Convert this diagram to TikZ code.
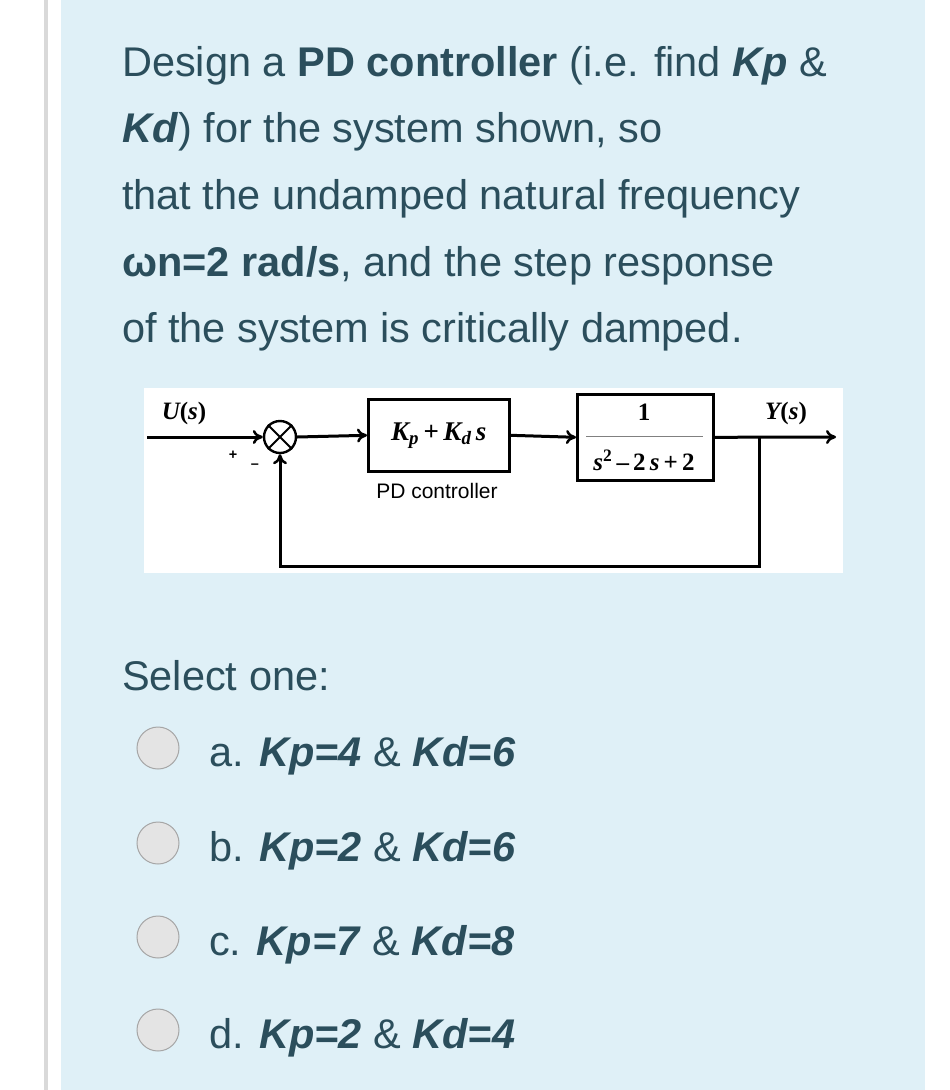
\documentclass[tikz,border=0pt]{standalone}
\usetikzlibrary{arrows.meta}
\usepackage{fontspec}
\setmainfont{Liberation Sans}
\newfontfamily\tms{Liberation Serif}
\definecolor{pan}{HTML}{DFF0F7}
\definecolor{txt}{HTML}{2B4E5C}
\definecolor{rad}{HTML}{E4E4E4}
\begin{document}
\begin{tikzpicture}[x=1pt,y=-1pt,
  q/.style={anchor=west,text=txt,font=\fontsize{41.5}{46}\selectfont,inner sep=0},
  blk/.style={draw,line width=2.6pt,inner sep=0,anchor=north west},
  w/.style={line width=3pt},
  a/.style={w,-{To[length=10pt,width=14pt,line width=2.5pt]}},
  rb/.style={circle,draw=gray!70,fill=rad,minimum size=42pt,inner sep=0,line width=1pt}]
\useasboundingbox (0,0) rectangle (950,1090);
\fill[white] (0,0) rectangle (950,1090);
\fill[gray!30] (44,0) rectangle (48,1090);
\fill[pan] (61,0) rectangle (925,1090);
\node[q] (l1) at (122,66) {Design a \textbf{PD controller} (i.e. find \textbf{\textit{Kp}} \&};
\node[q] (l2) at (122,132) {\textbf{\textit{Kd}}) for the system shown, so};
\node[q] (l3) at (122,199) {that the undamped natural frequency};
\node[q] (l4) at (122,266) {\textbf{ωn=2 rad/s}, and the step response};
\node[q] (l5) at (122,332) {of the system is critically damped.};
\fill[white] (144,388) rectangle (843,573);
\node[blk,minimum width=141pt,minimum height=72pt] (pd) at (367,398) {};
\node (pdt) at (pd.center) {\tms\fontsize{27}{28}\selectfont\bfseries\itshape K\textsubscript{p}\,\upshape+\,\itshape K\textsubscript{d}\,s};
\node[blk,minimum width=136pt,minimum height=86pt] (pl) at (576,393) {};
\node (n1) at (644,412) {\tms\fontsize{25}{26}\selectfont\bfseries 1};
\node (d1) at (644,460) {\tms\fontsize{25}{26}\selectfont\bfseries\itshape s\textsuperscript{\upshape 2}\upshape\,–\,2\,\itshape s\upshape\,+\,2};
\draw[gray,line width=1pt] (586,436) -- (703,436);
\node[draw,circle,line width=2.4pt,minimum size=32pt,inner sep=0] (sum) at (280,437) {};
\draw[line width=2pt] (sum.north west) -- (sum.south east) (sum.north east) -- (sum.south west);
\node (u) at (184,413) {\tms\fontsize{25}{26}\selectfont\bfseries\itshape U\upshape(\itshape s\upshape)};
\node (y) at (786,413) {\tms\fontsize{25}{26}\selectfont\bfseries\itshape Y\upshape(\itshape s\upshape)};
\node (plus) at (233,455) {\bfseries\Large +};
\node (minus) at (255,466) {\bfseries\Large –};
\node (pdl) at (437,491) {\fontsize{21}{22}\selectfont PD controller};
\coordinate (in) at (147,437);
\coordinate (out) at (836,437);
\coordinate (br) at (759,437);
\coordinate (c1) at (759,566);
\coordinate (c2) at (280,566);
\draw[a] (in) -- (sum.west);
\draw[a] (sum.east) -- (pd.west);
\draw[a] (pd.east) -- (pl.west);
\draw[a] (pl.east) -- (out);
\draw[a] (br) -- (c1) -- (c2) -- (sum.south);
\node[q] (so) at (122,676) {Select one:};
\node[rb] (r1) at (158,748) {};
\node[rb] (r2) at (158,843) {};
\node[rb] (r3) at (158,937) {};
\node[rb] (r4) at (158,1030) {};
\node[q] (o1) at (209,756) {a. \textbf{\textit{Kp=4}} \& \textbf{\textit{Kd=6}}};
\node[q] (o2) at (209,851) {b. \textbf{\textit{Kp=2}} \& \textbf{\textit{Kd=6}}};
\node[q] (o3) at (209,945) {c. \textbf{\textit{Kp=7}} \& \textbf{\textit{Kd=8}}};
\node[q] (o4) at (209,1038) {d. \textbf{\textit{Kp=2}} \& \textbf{\textit{Kd=4}}};
\end{tikzpicture}
\end{document}
